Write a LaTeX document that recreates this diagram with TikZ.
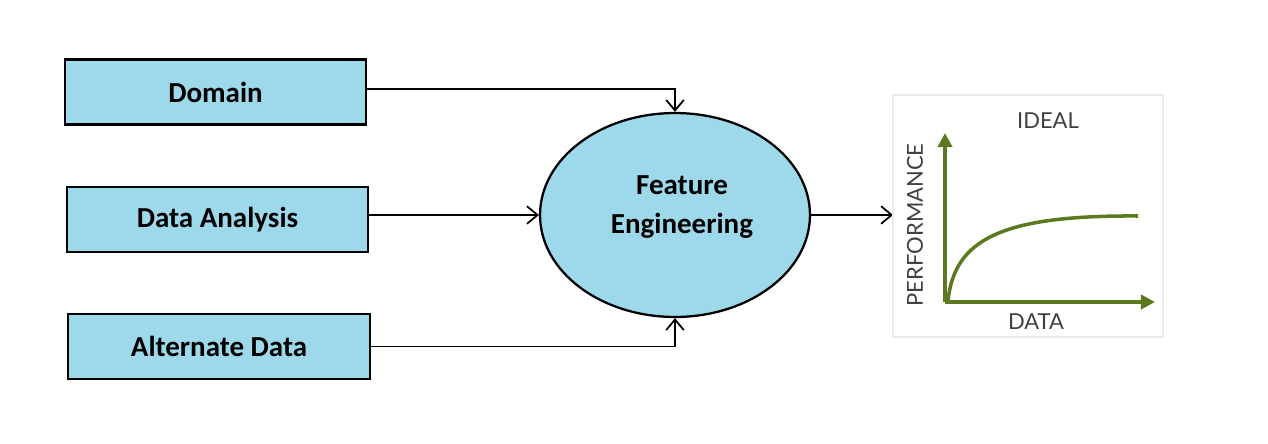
\documentclass[tikz,border=0pt]{standalone}
\usepackage{fontspec}
\setmainfont{Carlito}
\newfontfamily\chartfont{Lato}
\usetikzlibrary{arrows.meta,shapes.geometric}
\definecolor{boxblue}{HTML}{9DD9EA}
\definecolor{chartgreen}{HTML}{5B7A1F}
\tikzset{
  box/.style={draw=black, line width=1.3pt, fill=boxblue, minimum width=6.03cm, minimum height=1.3cm, font=\fontsize{16.5}{18}\selectfont\bfseries},
  conn/.style={line width=1pt, -{Straight Barb[length=6pt,width=10pt]}},
  ax/.style={chartgreen, line width=2pt, -{Triangle[length=8pt,width=8pt]}},
  lab/.style={font=\chartfont\fontsize{12.5}{14}\selectfont, text=black!75}
}
\begin{document}
\begin{tikzpicture}[x=0.02cm,y=-0.02cm]
\useasboundingbox (0,0) rectangle (1268,443);
\node[box] (dom) at (215.5,92) {Domain};
\node[box] (da) at (217.5,219.5) {Data Analysis};
\node[box] (alt) at (219,346.5) {Alternate Data};
\node[draw=black, line width=1.3pt, fill=boxblue, ellipse, minimum width=5.4cm, minimum height=4.08cm] (fe) at (675,215) {};
\node[align=center, font=\fontsize{16.5}{20}\selectfont\bfseries] (fetext) at (682,207) {Feature\\[2pt]Engineering};
\coordinate (chartin) at (893,215);
\draw[conn] (dom.east |- 0,89) -| (fe.north);
\draw[conn] (da.east |- fe.west) -- (fe.west);
\draw[conn] (alt.east) -| (fe.south);
\draw[conn] (fe.east) -- (chartin);
% chart
\draw[black!8, line width=0.8pt] (893,95) rectangle (1163,337);
\coordinate (o) at (945,302);
\coordinate (ytop) at (945,133);
\coordinate (xend) at (1155,302);
\draw[ax] (o) -- (ytop);
\draw[ax] (o) -- (xend);
\draw[chartgreen, line width=2pt] (948,300) .. controls (955,240) and (1000,215) .. (1138,216);
\node[lab] (ideal) at (1048,121) {IDEAL};
\node[lab] (data) at (1036,322) {DATA};
\node[lab, rotate=90] (perf) at (915,225) {PERFORMANCE};
\end{tikzpicture}
\end{document}
